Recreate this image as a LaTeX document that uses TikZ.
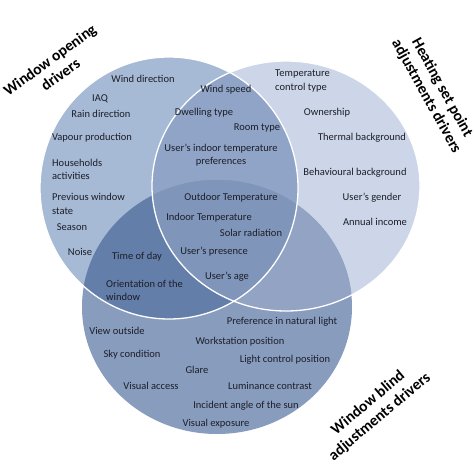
\documentclass[tikz,border=0pt]{standalone}
\usepackage{fontspec}
\setmainfont{Carlito}
\definecolor{cA}{RGB}{166,185,213}
\definecolor{cB}{RGB}{204,214,232}
\definecolor{cC}{RGB}{136,156,190}
\definecolor{cAB}{RGB}{143,164,198}
\definecolor{cAC}{RGB}{99,126,169}
\definecolor{cBC}{RGB}{146,163,196}
\definecolor{cABC}{RGB}{127,149,186}
\definecolor{txt}{RGB}{28,30,40}
\begin{document}
\begin{tikzpicture}[x=1pt,y=-1pt,
  lbl/.style={font=\fontsize{10.5}{13.5}\selectfont, text=txt, inner sep=0pt},
  ttl/.style={font=\fontsize{15.5}{18}\selectfont\bfseries, text=black, inner sep=0pt, align=center},
  edge/.style={draw=white, line width=1.3pt}]
\useasboundingbox (0,0) rectangle (474,474);
\fill[white] (0,0) rectangle (474,474);
\def\cA{(169,188) ellipse [x radius=129, y radius=131]}
\def\cB{(286,186) ellipse [x radius=134, y radius=125]}
\def\cC{(217,307) ellipse [x radius=135, y radius=127]}
% single regions
\fill[cA] \cA;
\fill[cB] \cB;
\fill[cC] \cC;
% pairwise
\begin{scope}\clip \cA; \fill[cAB] \cB; \end{scope}
\begin{scope}\clip \cA; \fill[cAC] \cC; \end{scope}
\begin{scope}\clip \cB; \fill[cBC] \cC; \end{scope}
\begin{scope}\clip \cA; \clip \cB; \fill[cABC] \cC; \end{scope}
% white edges
\draw[edge] \cA;
\draw[edge] \cB;

% titles
\node[ttl, rotate=36] (tA) at (55,67) {Window opening\\drivers};
\node[ttl, rotate=-61] (tB) at (434,92) {Heating set point\\adjustments drivers};
\node[ttl, rotate=40] (tC) at (374,410) {Window blind\\adjustments drivers};

% A only
\node[lbl] (a1) at (143,79) {Wind direction};
\node[lbl] (a2) at (100,99) {IAQ};
\node[lbl] (a3) at (101,114) {Rain direction};
\node[lbl] (a4) at (92,138) {Vapour production};
\node[lbl, anchor=west, align=left] (a5) at (52,169.5) {Households\\activities};
\node[lbl, anchor=west, align=left] (a6) at (52,204) {Previous window\\state};
\node[lbl] (a7) at (72,227) {Season};
\node[lbl] (a8) at (80,252) {Noise};

% A and B
\node[lbl] (ab1) at (226,90) {Wind speed};
\node[lbl] (ab2) at (204,113) {Dwelling type};
\node[lbl] (ab3) at (257,128) {Room type};
\node[lbl, align=center] (ab4) at (221,155) {User's indoor temperature\\preferences};

% B only
\node[lbl, anchor=west, align=left] (b1) at (275,81) {Temperature\\control type};
\node[lbl] (b2) at (327,113) {Ownership};
\node[lbl] (b3) at (362,138) {Thermal background};
\node[lbl] (b4) at (355,173) {Behavioural background};
\node[lbl] (b5) at (372,198) {User's gender};
\node[lbl] (b6) at (375,222) {Annual income};

% A, B and C
\node[lbl] (abc1) at (231,198) {Outdoor Temperature};
\node[lbl] (abc2) at (209,218) {Indoor Temperature};
\node[lbl] (abc3) at (251,233) {Solar radiation};
\node[lbl] (abc4) at (214,252) {User's presence};
\node[lbl] (abc5) at (227,277) {User's age};

% A and C
\node[lbl] (ac1) at (137,257) {Time of day};
\node[lbl, anchor=west, align=left] (ac2) at (106,290.5) {Orientation of the\\window};

% C only
\node[lbl] (c1) at (282,322) {Preference in natural light};
\node[lbl] (c2) at (117,331) {View outside};
\node[lbl] (c3) at (240,342) {Workstation position};
\node[lbl] (c4) at (132,355) {Sky condition};
\node[lbl] (c5) at (285,360) {Light control position};
\node[lbl] (c6) at (197,370) {Glare};
\node[lbl] (c7) at (151,386) {Visual access};
\node[lbl] (c8) at (270,386) {Luminance contrast};
\node[lbl] (c9) at (246,406) {Incident angle of the sun};
\node[lbl] (c10) at (216,424) {Visual exposure};
\end{tikzpicture}
\end{document}
